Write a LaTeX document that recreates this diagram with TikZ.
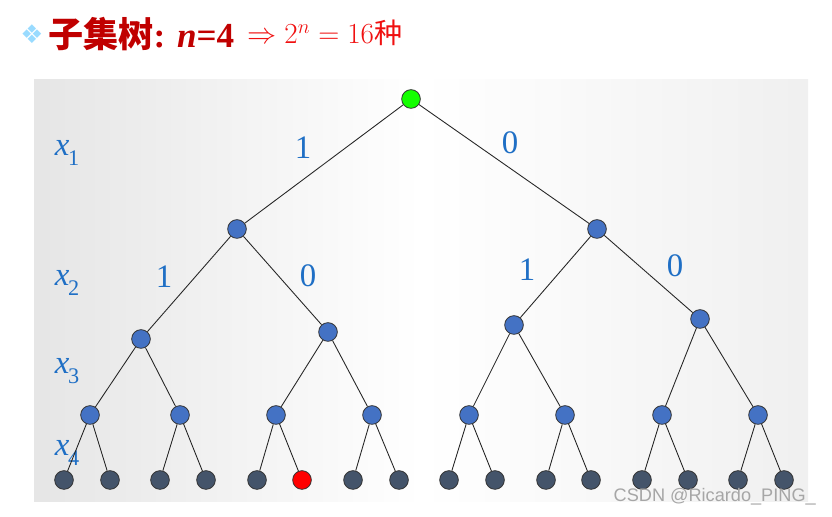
\documentclass[tikz,border=0pt]{standalone}
\usepackage{fontspec}
\setmainfont{Liberation Serif}
\newfontfamily\cjk{Noto Sans CJK SC}
\newfontfamily\symfont{DejaVu Sans}
\newfontfamily\wmfont{Liberation Sans}
\usetikzlibrary{positioning,calc}
\definecolor{treeblue}{HTML}{4472C4}
\definecolor{leafgray}{HTML}{44546A}
\definecolor{labelblue}{HTML}{1F6FC5}
\definecolor{titlered}{HTML}{C00000}
\definecolor{handred}{HTML}{F01010}
\newcommand{\varx}[1]{{\itshape x}\kern-0.04em\raisebox{-0.32em}{\fontsize{19}{20}\selectfont #1}}

\tikzset{
  vertex/.style={circle, draw=black!80, line width=0.7pt, minimum size=0.56cm, inner sep=0pt},
  innode/.style={vertex, fill=treeblue},
  leafnode/.style={vertex, fill=leafgray},
  branch/.style={draw=black!85, line width=0.75pt},
  bitlabel/.style={text=labelblue, font=\fontsize{28}{30}\selectfont},
  varlabel/.style={text=labelblue, font=\fontsize{28}{30}\selectfont}
}

\begin{document}
\begin{tikzpicture}[x=0.03cm, y=-0.03cm]
\useasboundingbox (0,0) rectangle (832,517);

% background panel
\shade[left color=gray!20, right color=gray!12, middle color=white] (34,80) rectangle (808,502);

% title
\node (icon) at (32,34) {\symfont\fontsize{22}{24}\selectfont\color{blue!35!cyan!40}❖};
\node[anchor=west, text=titlered, inner sep=0pt] (title) at (48,34)
  {\fontsize{30}{32}\selectfont\cjk\bfseries 子集树\textrm{: \textit{n}=4}};
\node[anchor=west, text=handred, inner sep=0pt] (note) at (247,33)
  {\fontsize{24}{26}\selectfont $\Rightarrow 2^n = 16$\cjk 种};

% variable labels
\node[varlabel] (v1) at (67,153) {\varx{1}};
\node[varlabel] (v2) at (67,283) {\varx{2}};
\node[varlabel] (v3) at (67,371) {\varx{3}};
\node[varlabel] (v4) at (67,453) {\varx{4}};

% tree nodes
\node[vertex, fill=green!90!lime] (r) at (411,99) {};
\node[innode] (a) at (237,229) {};
\node[innode] (b) at (597,229) {};
\node[innode] (aa) at (141,339) {};
\node[innode] (ab) at (328,332) {};
\node[innode] (ba) at (514,325) {};
\node[innode] (bb) at (700,319) {};
\foreach \n/\x in {aaa/90, aab/180, aba/276, abb/372, baa/469, bab/565, bba/662, bbb/758}
  \node[innode] (\n) at (\x,415) {};
\foreach \n/\x in {aaaa/64, aaab/110, aaba/160, aabb/206, abaa/257, abbb/399, abba/353,
                   baaa/449, baab/495, baba/546, babb/591, bbaa/642, bbab/688, bbba/738, bbbb/784}
  \node[leafnode] (\n) at (\x,480) {};
\node[vertex, fill=red] (abab) at (302,480) {};

% branches
\draw[branch] (r) -- (a) (r) -- (b);
\draw[branch] (a) -- (aa) (a) -- (ab) (b) -- (ba) (b) -- (bb);
\foreach \p in {aa,ab,ba,bb} {
  \draw[branch] (\p) -- (\p a) (\p) -- (\p b);
}
\foreach \p in {aaa,aab,aba,abb,baa,bab,bba,bbb} {
  \draw[branch] (\p) -- (\p a) (\p) -- (\p b);
}

% branch labels
\node[bitlabel] (l1) at (303,148) {1};
\node[bitlabel] (l0) at (510,143) {0};
\node[bitlabel] (la1) at (164,277) {1};
\node[bitlabel] (la0) at (308,276) {0};
\node[bitlabel] (lb1) at (527,270) {1};
\node[bitlabel] (lb0) at (675,266) {0};

% watermark
\node[anchor=east, text=gray!70, inner sep=0pt] (mark) at (816,497)
  {\wmfont\fontsize{15.5}{17}\selectfont CSDN @Ricardo\_PING\_};
\end{tikzpicture}
\end{document}
